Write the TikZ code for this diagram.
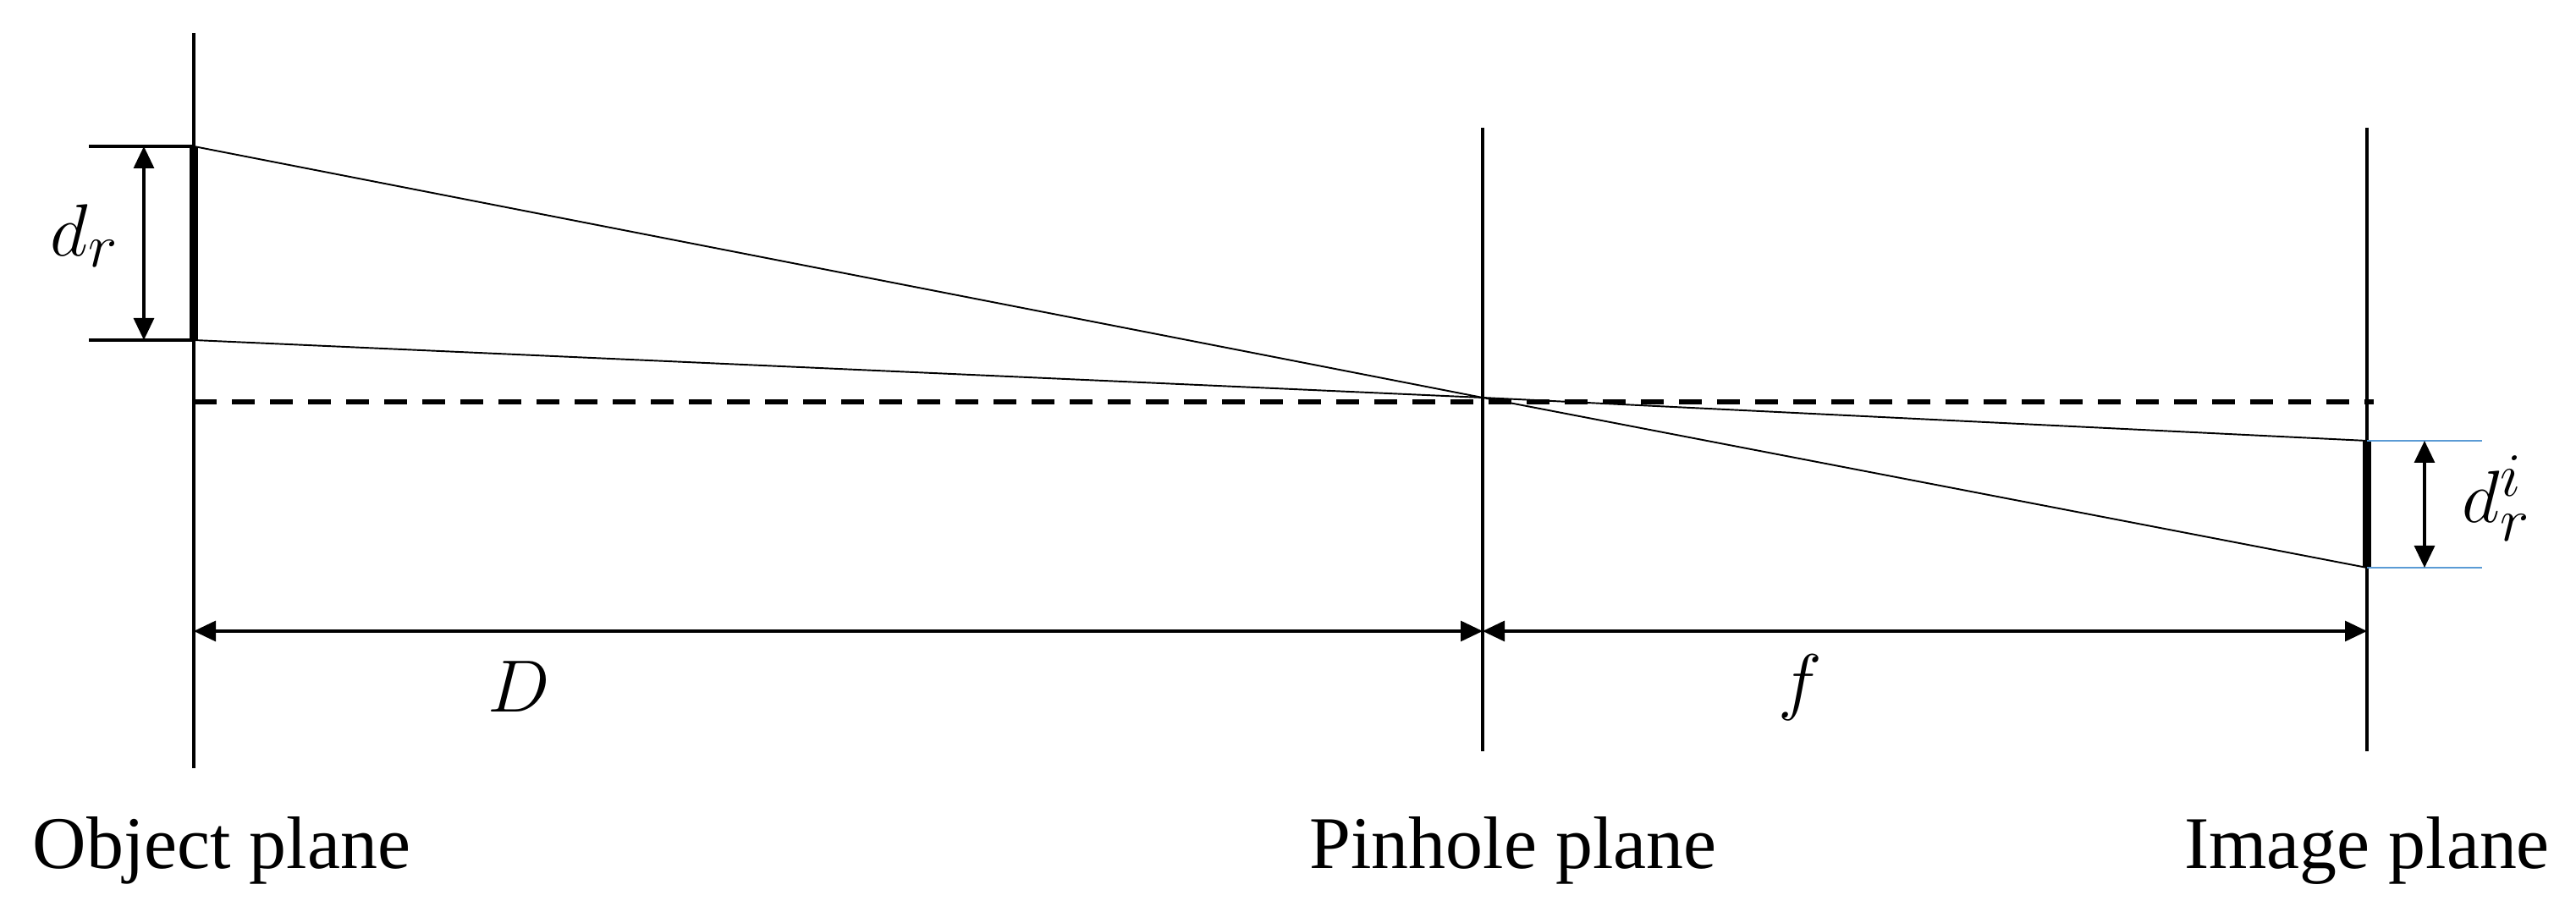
\documentclass[tikz,border=0pt]{standalone}
\usepackage{fontspec}
\setmainfont{Liberation Serif}
\usetikzlibrary{arrows.meta}
\definecolor{tickblue}{RGB}{91,155,213}
\begin{document}
\begin{tikzpicture}[line join=round, >={Triangle[length=.26cm,width=.24cm]},
  plane/.style={line width=.9pt},
  ray/.style={line width=.55pt},
  seg/.style={line width=2.9pt},
  dim/.style={line width=.9pt,<->},
  axis/.style={line width=1.5pt,dash pattern=on .27cm off .18cm},
  lbl/.style={font=\fontsize{25}{30}\selectfont},
  mlbl/.style={font=\fontsize{32}{36}\selectfont}]
\useasboundingbox (0,0) rectangle (30.44,10.91);
% planes
\coordinate (objT) at (2.29,10.52); \coordinate (objB) at (2.29,1.83);
\coordinate (pinT) at (17.52,9.40); \coordinate (pinB) at (17.52,2.03);
\coordinate (imgT) at (27.97,9.40); \coordinate (imgB) at (27.97,2.03);
\draw[plane] (objT)--(objB) (pinT)--(pinB) (imgT)--(imgB);
% object, pinhole, image
\coordinate (o1) at (2.29,9.18); \coordinate (o2) at (2.29,6.89);
\coordinate (pin) at (17.52,6.21);
\coordinate (i1) at (27.97,5.70); \coordinate (i2) at (27.97,4.20);
\draw[ray] (o1)--(pin)--(i2) (o2)--(pin)--(i1);
\draw[seg] (o1)--(o2) (i1)--(i2);
\draw[axis] (2.29,6.16)--(28.05,6.16);
% object size
\draw[plane] (1.05,9.18)--(o1) (1.05,6.89)--(o2);
\draw[dim] (1.70,9.18)--(1.70,6.89);
\node[mlbl] (dr) at (1.00,8.12) {$d_r$};
% image size
\draw[line width=.8pt,tickblue] (i1)--(29.33,5.70) (i2)--(29.33,4.20);
\draw[dim] (28.65,5.70)--(28.65,4.20);
\node[mlbl] (dri) at (29.50,5.02) {$d_r^i$};
% distances
\coordinate (dL) at (2.29,3.45); \coordinate (dM) at (17.52,3.45); \coordinate (dR) at (27.97,3.45);
\draw[dim] (dL)--(dM);
\draw[dim] (dM)--(dR);
\node[mlbl] (D) at (6.13,2.79) {$D$};
\node[mlbl] (f) at (21.27,2.78) {$f$};
% labels
\node[lbl,anchor=base] (objL) at (2.62,0.64) {Object plane};
\node[lbl,anchor=base] (pinL) at (17.88,0.64) {Pinhole plane};
\node[lbl,anchor=base] (imgL) at (27.97,0.64) {Image plane};
\end{tikzpicture}
\end{document}
